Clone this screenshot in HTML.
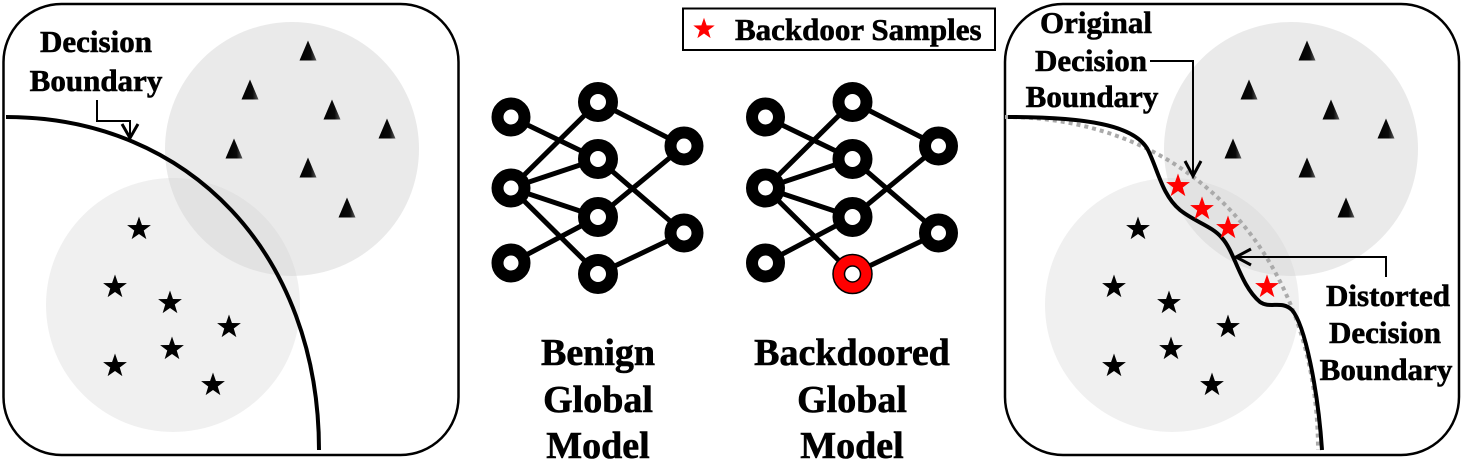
<!DOCTYPE html>
<html><head><meta charset="utf-8"><style>
html,body{margin:0;padding:0;background:#fff;}
svg{display:block;}
text{font-family:"Liberation Serif",serif;font-weight:bold;fill:#000;stroke:#000;stroke-width:0.6;}
</style></head><body>
<svg width="1467" height="467" viewBox="0 0 1467 467" xmlns="http://www.w3.org/2000/svg">
<defs>
<path id="st" d="M0,-12.5 L2.94,-4.05 L11.89,-3.86 L4.76,1.55 L7.35,10.11 L0,5 L-7.35,10.11 L-4.76,1.55 L-11.89,-3.86 L-2.94,-4.05 Z"/>
<linearGradient id="tg" x1="0" y1="0" x2="1" y2="0">
<stop offset="0" stop-color="#000"/><stop offset="0.65" stop-color="#0a0a0a"/><stop offset="1" stop-color="#5a5a5a"/>
</linearGradient>
<path id="tr" d="M0,-10.5 L8.5,9.5 L-8.5,9.5 Z" fill="url(#tg)"/>
<g id="scene">
<circle cx="173" cy="305" r="127" fill="#d0d0d0" fill-opacity="0.33"/>
<circle cx="292" cy="149" r="127" fill="#d0d0d0" fill-opacity="0.45"/>
<use href="#tr" x="308" y="51"/>
<use href="#tr" x="250" y="90"/>
<use href="#tr" x="332" y="110"/>
<use href="#tr" x="387" y="129"/>
<use href="#tr" x="234" y="149"/>
<use href="#tr" x="308" y="168"/>
<use href="#tr" x="347" y="208"/>
<use href="#st" x="139" y="229"/>
<use href="#st" x="115" y="287"/>
<use href="#st" x="170" y="303"/>
<use href="#st" x="229" y="327"/>
<use href="#st" x="172" y="349"/>
<use href="#st" x="115" y="366"/>
<use href="#st" x="213" y="385"/>
</g>
<g id="net" fill="none" stroke="#000">
<g stroke-width="5">
<line x1="511" y1="117" x2="598" y2="159"/>
<line x1="511" y1="188" x2="598" y2="102"/>
<line x1="511" y1="188" x2="598" y2="159"/>
<line x1="511" y1="188" x2="598" y2="217"/>
<line x1="511" y1="188" x2="598" y2="274"/>
<line x1="511" y1="263" x2="598" y2="217"/>
<line x1="598" y1="102" x2="684" y2="146"/>
<line x1="598" y1="159" x2="684" y2="233"/>
<line x1="598" y1="217" x2="684" y2="146"/>
<line x1="598" y1="274" x2="684" y2="233"/>
</g>
<g stroke-width="12" fill="#fff">
<circle cx="511" cy="117" r="13.5"/>
<circle cx="511" cy="188" r="13.5"/>
<circle cx="511" cy="263" r="13.5"/>
<circle cx="598" cy="102" r="14"/>
<circle cx="598" cy="159" r="14"/>
<circle cx="598" cy="217" r="14"/>
<circle cx="684" cy="146" r="13.5"/>
<circle cx="684" cy="233" r="13.5"/>
</g>
</g>
</defs>

<!-- Left panel -->
<rect x="3.5" y="4" width="455" height="451" rx="58" ry="58" fill="#fff" stroke="#000" stroke-width="2.5"/>
<use href="#scene"/>
<path d="M6,117 C190,117 319,255 319,450" fill="none" stroke="#000" stroke-width="4"/>
<text x="96" y="52" font-size="31" text-anchor="middle">Decision</text>
<text x="96" y="91" font-size="31" text-anchor="middle">Boundary</text>
<polyline points="97,100 97,121 130,121 130,137" fill="none" stroke="#000" stroke-width="2"/>
<polyline points="122,124 130,138 138,124" fill="none" stroke="#000" stroke-width="3"/>

<!-- Legend -->
<rect x="683" y="8.5" width="312" height="41.5" fill="#fff" stroke="#000" stroke-width="2"/>
<g transform="translate(704,29) scale(0.9)"><use href="#st" fill="#f00"/></g>
<text x="735" y="40" font-size="31">Backdoor Samples</text>

<!-- Networks -->
<use href="#net"/>
<circle cx="598" cy="274" r="14" fill="#fff" stroke="#000" stroke-width="12"/>
<g transform="translate(254.5,0)">
<use href="#net"/>
<circle cx="598" cy="274" r="19.5" fill="#f00" stroke="#000" stroke-width="1.5"/>
<circle cx="598" cy="274" r="8" fill="#fff" stroke="#000" stroke-width="1.5"/>
</g>
<text font-size="38" text-anchor="middle"><tspan x="598" y="365">Benign</tspan><tspan x="598" y="412">Global</tspan><tspan x="598" y="458">Model</tspan></text>
<text font-size="38" text-anchor="middle"><tspan x="852" y="365">Backdoored</tspan><tspan x="852" y="412">Global</tspan><tspan x="852" y="458">Model</tspan></text>

<!-- Right panel -->
<rect x="1005" y="4" width="454" height="451" rx="58" ry="58" fill="#fff" stroke="#000" stroke-width="2.5"/>
<use href="#scene" transform="translate(999,0)"/>
<path d="M1005,117 C1189,117 1318,255 1318,450" fill="none" stroke="#aaa" stroke-width="4" stroke-dasharray="4 4"/>
<path d="M1008,117 C1085,117 1135,125 1148,150 C1158,170 1162,195 1180,210 C1195,222 1212,226 1222,238 C1235,252 1240,285 1260,302 C1270,309 1282,300 1292,310 C1305,325 1318,390 1322,450" fill="none" stroke="#000" stroke-width="4"/>
<g fill="#f00">
<use href="#st" x="1178" y="186"/>
<use href="#st" x="1202" y="209"/>
<use href="#st" x="1228" y="228"/>
<use href="#st" x="1267" y="287"/>
</g>
<text font-size="31" text-anchor="middle"><tspan x="1096" y="33">Original</tspan><tspan x="1091" y="71">Decision</tspan><tspan x="1092" y="107">Boundary</tspan></text>
<polyline points="1150,61 1193,61 1193,175" fill="none" stroke="#000" stroke-width="2"/>
<polyline points="1185,161 1193,176 1201,161" fill="none" stroke="#000" stroke-width="3"/>
<polyline points="1386,277 1386,257 1237,257" fill="none" stroke="#000" stroke-width="2"/>
<polyline points="1251,249 1236,257 1251,265" fill="none" stroke="#000" stroke-width="3"/>
<text font-size="31" text-anchor="middle"><tspan x="1388" y="306">Distorted</tspan><tspan x="1385" y="343">Decision</tspan><tspan x="1386" y="380">Boundary</tspan></text>
</svg>
</body></html>
